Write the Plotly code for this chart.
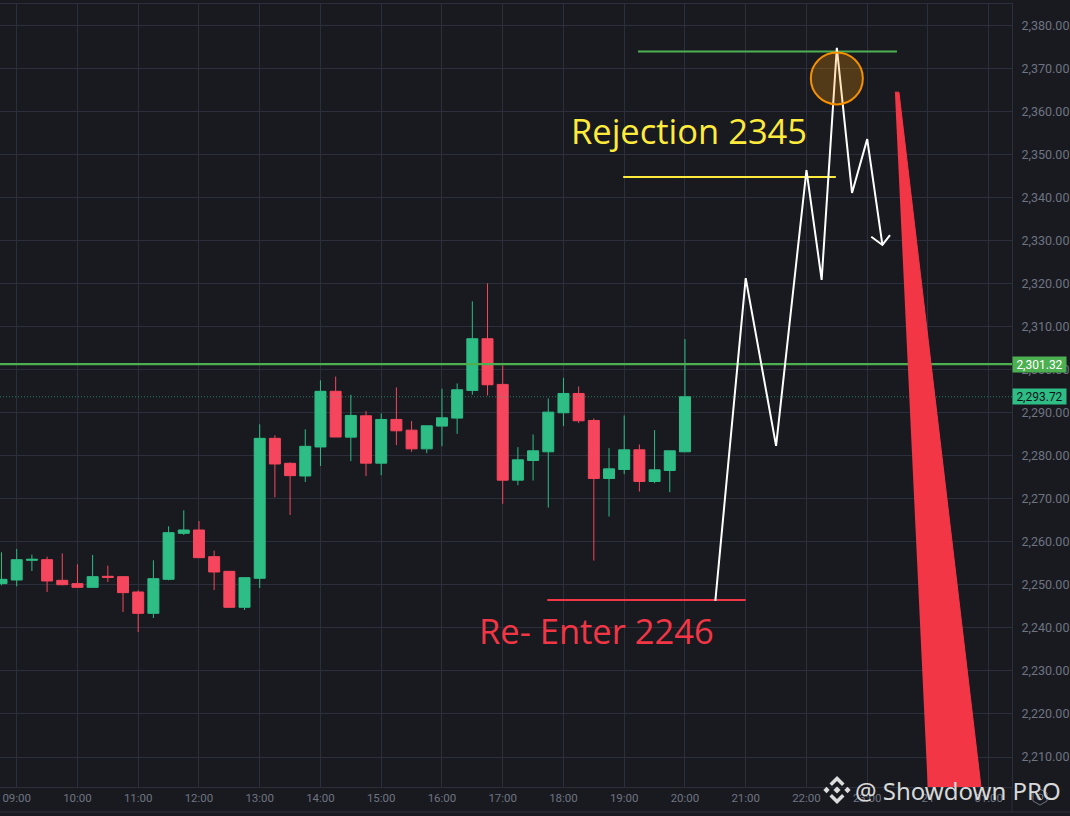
import pandas as pd
import plotly.graph_objects as go

candle_times = list(pd.date_range("2024-06-20 08:45", "2024-06-20 20:00", freq="15min"))
opens = [2250.29,2251.14,2255.71,2255.86,2251.06,2250.29,2249.43,2251.99,2251.91,2248.35,2243.39,2251.3,2261.98,2262.76,2256.56,2253.15,2244.79,2251.53,2284.06,2278.25,2275.31,2282.05,2294.99,2284.34,2289.3,2278.29,2288.45,2285.96,2281.62,2286.9,2288.76,2295.19,2307.21,2296.59,2274.34,2278.91,2280.93,2290.0,2294.49,2288.21,2274.72,2276.82,2281.39,2274.03,2276.58,2280.93]
highs = [2257.57,2258.34,2257.03,2256.56,2257.34,2254.78,2256.95,2254.47,2251.91,2248.74,2255.71,2263.61,2267.33,2264.85,2257.96,2253.15,2251.68,2287.32,2284.76,2278.49,2286.16,2297.54,2298.4,2294.18,2290.38,2289.84,2295.89,2288.06,2286.97,2295.58,2296.82,2315.89,2320.07,2301.0,2282.01,2284.96,2293.33,2298.14,2296.12,2288.68,2281.78,2289.38,2282.63,2285.96,2281.16,2307.13]
lows = [2249.9,2249.67,2253.23,2248.35,2249.9,2249.43,2249.43,2250.67,2243.7,2239.05,2242.31,2251.06,2261.6,2256.33,2248.81,2244.79,2244.17,2249.28,2270.35,2266.25,2273.92,2277.63,2284.37,2278.76,2275.27,2275.5,2282.48,2280.93,2280.62,2282.24,2285.11,2294.18,2294.03,2268.83,2273.17,2274.26,2267.98,2286.9,2287.59,2255.66,2265.89,2275.73,2271.7,2273.64,2271.55,2280.93]
closes = [2251.3,2255.86,2255.94,2250.91,2250.05,2249.43,2251.91,2251.76,2248.2,2243.39,2251.45,2262.14,2262.76,2256.33,2253.0,2244.79,2251.68,2284.06,2278.1,2275.39,2282.2,2294.99,2284.37,2289.38,2278.29,2288.45,2285.81,2281.62,2286.97,2288.83,2295.35,2307.21,2296.51,2274.34,2279.07,2281.16,2290.15,2294.49,2288.14,2274.72,2276.97,2281.39,2274.03,2276.74,2281.16,2293.72]

tick_times = ["2024-06-20 %02d:00" % h for h in range(9, 24)] + ["2024-06-21 00:00", "2024-06-21 01:00"]
tick_labels = ["%02d:00" % h for h in range(9, 24)] + ["21", "01:00"]

level_price = 2301.32
last_price = 2293.72
view_times = ["2024-06-20 08:43:30", "2024-06-21 01:23:00"]

path_times = ["2024-06-20 20:30","2024-06-20 21:00","2024-06-20 21:30","2024-06-20 22:00","2024-06-20 22:15","2024-06-20 22:30","2024-06-20 22:45","2024-06-20 23:00","2024-06-20 23:15"]
path_prices = [2246.3,2321.3,2282.3,2346.4,2320.9,2374.8,2341.1,2353.6,2329.0]
head_times = ["2024-06-20 23:04","2024-06-20 23:15","2024-06-20 23:22:30"]
head_prices = [2330.9,2329.0,2331.3]

top_line_times = ["2024-06-20 19:13:36","2024-06-20 23:29:24"]
top_line_prices = [2373.96,2373.96]
reject_times = ["2024-06-20 18:59","2024-06-20 22:29"]
reject_prices = [2344.8,2344.8]
enter_times = ["2024-06-20 17:44","2024-06-20 21:00"]
enter_prices = [2246.5,2246.5]

wedge_times = ["2024-06-20 23:27:20","2024-06-20 23:31:20","2024-06-21 00:52:24","2024-06-20 23:59:48"]
wedge_prices = [2364.5,2364.5,2203.0,2203.0]

circle_time = ["2024-06-20 22:30"]
circle_price = [2367.7]

BG = "#181a20"
GRID = "#2b2f3b"
TICK = "#6f7480"
GREEN = "#2ebd85"
RED = "#f6465d"
LEVEL = "#4caf50"
YELLOW = "#ffeb3b"
SIGNAL = "#f23645"
FONT = "Roboto"

fig = go.Figure()
fig.add_trace(go.Candlestick(
    x=candle_times, open=opens, high=highs, low=lows, close=closes, whiskerwidth=0,
    increasing=dict(line=dict(color=GREEN, width=1), fillcolor=GREEN),
    decreasing=dict(line=dict(color=RED, width=1), fillcolor=RED),
    hoverinfo="skip"))

def line(x, y, color, width, dash="solid"):
    fig.add_trace(go.Scatter(x=x, y=y, mode="lines", hoverinfo="skip",
                             line=dict(color=color, width=width, dash=dash)))

line(view_times, [last_price, last_price], "rgba(46,189,133,0.6)", 1, "1px,2px")
line(view_times, [level_price, level_price], LEVEL, 2.2)
line(top_line_times, top_line_prices, LEVEL, 2)
line(reject_times, reject_prices, YELLOW, 2)
line(enter_times, enter_prices, SIGNAL, 2)
line(path_times, path_prices, "#ffffff", 2)
line(head_times, head_prices, "#ffffff", 2)
fig.add_trace(go.Scatter(x=wedge_times, y=wedge_prices, mode="lines", fill="toself",
                         fillcolor=SIGNAL, line=dict(color=SIGNAL, width=1), hoverinfo="skip"))
fig.add_trace(go.Scatter(x=circle_time, y=circle_price, mode="markers", hoverinfo="skip",
                         marker=dict(size=52, color="rgba(255,152,0,0.25)",
                                     line=dict(color="#f59000", width=2))))

W, H = 1070, 816
L, R, T, B = 0, 1012, 4, 787
def px(x): return (x - L) / (R - L)
def py(y): return (B - y) / (B - T)

def poly(points, **kw):
    d = "M " + " L ".join(f"{px(a):.5f},{py(b):.5f}" for a, b in points) + " Z"
    return dict(type="path", xref="paper", yref="paper", path=d, layer="above", **kw)

shapes = [
    dict(type="line", xref="paper", yref="paper", x0=px(1012), x1=px(1012), y0=py(787), y1=py(812),
         line=dict(color=GRID, width=1), layer="below"),
    dict(type="line", xref="paper", yref="paper", x0=0, x1=px(1070), y0=py(812), y1=py(812),
         line=dict(color=GRID, width=1), layer="below"),
]
# settings hexagon
hexa = [(1040,789),(1047,793),(1047,801),(1040,805),(1033,801),(1033,793)]
shapes.append(poly(hexa, line=dict(color="#6f7480", width=1)))
shapes.append(dict(type="circle", xref="paper", yref="paper", x0=px(1037), x1=px(1043), y0=py(800), y1=py(794),
                   line=dict(color="#6f7480", width=1), layer="above"))
# watermark logo
LOGO = "#dcdcdc"
cx, cy = 837, 790
def diamond(x, y, r): return [(x, y-r), (x+r, y), (x, y+r), (x-r, y)]
shapes += [poly(diamond(cx, cy, 3.6), fillcolor=LOGO, line=dict(width=0)),
           poly(diamond(cx-10.5, cy, 3.2), fillcolor=LOGO, line=dict(width=0)),
           poly(diamond(cx+10.5, cy, 3.2), fillcolor=LOGO, line=dict(width=0)),
           poly([(cx, cy-14),(cx+7.5, cy-6.5),(cx+5, cy-4),(cx, cy-9),(cx-5, cy-4),(cx-7.5, cy-6.5)], fillcolor=LOGO, line=dict(width=0)),
           poly([(cx, cy+14),(cx+7.5, cy+6.5),(cx+5, cy+4),(cx, cy+9),(cx-5, cy+4),(cx-7.5, cy+6.5)], fillcolor=LOGO, line=dict(width=0))]

annotations = [
    dict(x="2024-06-20 20:03:30", y=2355.6, xref="x", yref="y", text="Rejection 2345", showarrow=False,
         font=dict(family="Open Sans", size=34.5, color=YELLOW, weight=500)),
    dict(x="2024-06-20 18:32:36", y=2239.4, xref="x", yref="y", text="Re- Enter 2246", showarrow=False,
         font=dict(family="Open Sans", size=34.5, color=SIGNAL, weight=500)),
    dict(x=1, y=level_price, xref="paper", yref="y", xanchor="left", xshift=0, text=f"{level_price:,.2f}",
         showarrow=False, bgcolor=LEVEL, width=53, height=15, borderpad=0,
         font=dict(family=FONT, size=12, color="#ffffff")),
    dict(x=1, y=last_price, xref="paper", yref="y", xanchor="left", xshift=0, text=f"{last_price:,.2f}",
         showarrow=False, bgcolor=GREEN, width=53, height=15, borderpad=0,
         font=dict(family=FONT, size=12, color="#10141a")),
    dict(x=px(958), y=py(790), xref="paper", yref="paper", xanchor="center", yanchor="middle",
         text="@ Showdown PRO", showarrow=False,
         font=dict(family="Noto Sans", size=24, color="#d8d8d8")),
]

fig.update_layout(
    width=W, height=H, showlegend=False, paper_bgcolor=BG, plot_bgcolor=BG,
    margin=dict(l=0, r=W-R, t=T, b=H-B, pad=0), boxgap=0.15, boxgroupgap=0.15,
    font=dict(family=FONT, color=TICK, size=11), shapes=shapes, annotations=annotations,
    xaxis=dict(type="date", range=view_times, rangeslider=dict(visible=False), tickmode="array",
               tickvals=tick_times, ticktext=tick_labels, showgrid=True, gridcolor=GRID, gridwidth=1,
               showline=True, linecolor=GRID, linewidth=1, mirror=True, ticks="", zeroline=False,
               tickfont=dict(family=FONT, size=11.5, color=TICK)),
    yaxis=dict(side="right", range=[2203.03, 2385.0], dtick=10, tick0=2200, tickformat=",.2f",
               showgrid=True, gridcolor=GRID, gridwidth=1, showline=True, linecolor=GRID, linewidth=1,
               ticks="outside", ticklen=6, tickcolor=BG, zeroline=False,
               tickfont=dict(family=FONT, size=12.5, color=TICK)),
)
fig.write_html("out.html", config=dict(displayModeBar=False),
               post_script="document.body.style.margin='0';document.body.style.overflow='hidden';document.body.style.background='#181a20';")
